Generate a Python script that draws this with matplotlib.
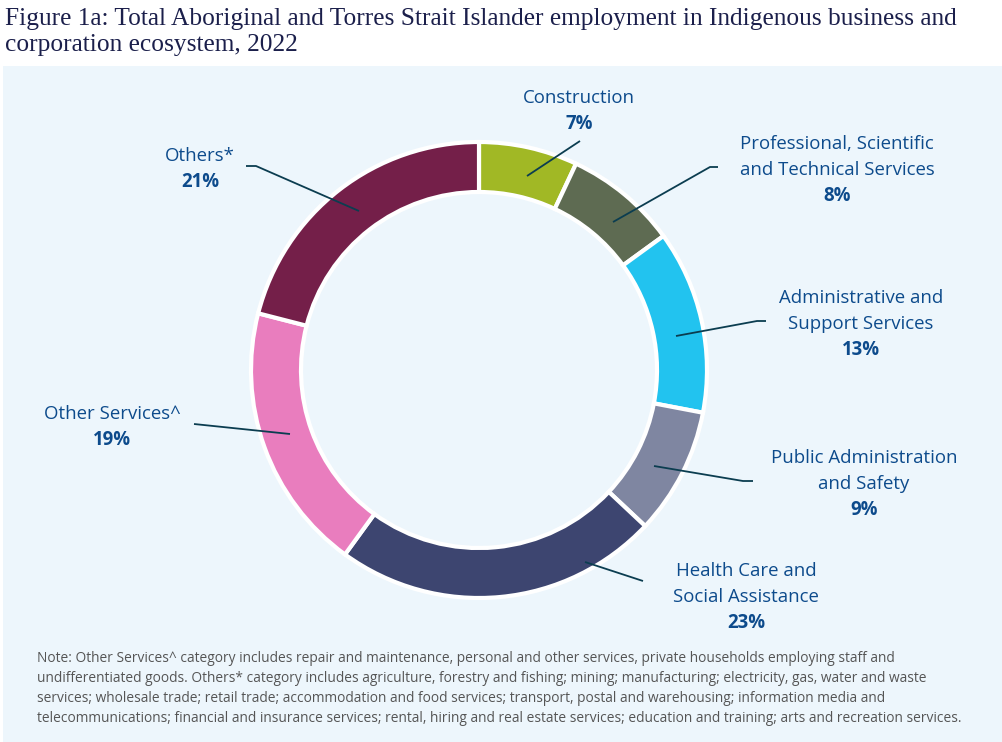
import matplotlib
matplotlib.use("Agg")
import matplotlib.pyplot as plt
from matplotlib import font_manager as fm

categories = ["Construction", "Professional, Scientific\nand Technical Services",
              "Administrative and\nSupport Services", "Public Administration\nand Safety",
              "Health Care and\nSocial Assistance", "Other Services^", "Others*"]
values = [7, 8, 13, 9, 23, 19, 21]
colors = ["#a1b825", "#5e6b52", "#22c3ef", "#7f86a1", "#3d4570", "#e97dbe", "#741f49"]

title_lines = ["Figure 1a: Total Aboriginal and Torres Strait Islander employment in Indigenous business and",
               "corporation ecosystem, 2022"]
note_lines = [
    "Note: Other Services^ category includes repair and maintenance, personal and other services, private households employing staff and",
    "undifferentiated goods. Others* category includes agriculture, forestry and fishing; mining; manufacturing; electricity, gas, water and waste",
    "services; wholesale trade; retail trade; accommodation and food services; transport, postal and warehousing; information media and",
    "telecommunications; financial and insurance services; rental, hiring and real estate services; education and training; arts and recreation services.",
]

W, H = 1003, 742
fig = plt.figure(figsize=(W / 100, H / 100), dpi=100)
fig.patch.set_facecolor("white")
ax = fig.add_axes([0, 0, 1, 1])
ax.set_xlim(0, W)
ax.set_ylim(0, H)
ax.axis("off")

def Y(y):
    return H - y

# panel
ax.add_patch(plt.Rectangle((3, 0), W - 3, Y(66), facecolor="#edf6fc", edgecolor="none", zorder=0))

# donut
wedges, _ = ax.pie(values, colors=colors, startangle=90, counterclock=False,
                   center=(479, Y(370)), radius=228,
                   wedgeprops=dict(width=50, edgecolor="white", linewidth=3))
ax.set_xlim(0, W)
ax.set_ylim(0, H)
ax.set_aspect("equal")

names = set(f.name for f in fm.fontManager.ttflist)
label_font = "Open Sans" if "Open Sans" in names else "DejaVu Sans"
note_font = "Liberation Sans Narrow" if "Liberation Sans Narrow" in names else label_font

txt_color = "#0d4b8c"
line_color = "#0b3d50"
fs = 13.4

# label layout: (center x, first line y, leader points in image px)
layout = [
    (579, 98, [(527, 176), (580, 141)]),
    (837, 144, [(613, 222), (710, 167), (718, 167)]),
    (861, 298, [(676, 336), (757, 321), (766, 321)]),
    (864, 458, [(654, 466), (743, 481), (753, 481)]),
    (746, 571, [(585, 562), (643, 581)]),
    (112, 414, [(290, 434), (194, 424)]),
    (200, 156, [(359, 211), (256, 166), (246, 166)]),
]
for cat, val, (cx, y0, pts) in zip(categories, values, layout):
    lines = cat.split("\n")
    for i, ln in enumerate(lines):
        ax.text(cx, Y(y0 + 26 * i), ln, ha="center", va="center", fontsize=fs,
                family=label_font, color=txt_color)
    ax.text(cx, Y(y0 + 26 * len(lines)), f"{val}%", ha="center", va="center",
            fontsize=fs, family=label_font, color=txt_color, fontweight="bold")
    ax.plot([p[0] for p in pts], [Y(p[1]) for p in pts], color=line_color, lw=1.3,
            solid_capstyle="butt", zorder=5)

# title
renderer = fig.canvas.get_renderer()
t = ax.text(5, Y(19), title_lines[0], ha="left", va="center", fontsize=16,
            family="Liberation Serif", color="#1b1f4b")
w = t.get_window_extent(renderer).width
tfs = 16 * 952 / w
t.set_fontsize(tfs)
ax.text(5, Y(45), title_lines[1], ha="left", va="center", fontsize=tfs,
        family="Liberation Serif", color="#1b1f4b")

# note
n0 = ax.text(37, Y(658), note_lines[0], ha="left", va="center", fontsize=10,
             family=note_font, color="#555555")
w = n0.get_window_extent(renderer).width
nfs = 10 * 858 / w
n0.set_fontsize(nfs)
for i, ln in enumerate(note_lines[1:], start=1):
    ax.text(37, Y(658 + 20 * i), ln, ha="left", va="center", fontsize=nfs,
            family=note_font, color="#555555")

fig.savefig("out.png", dpi=100, facecolor=fig.get_facecolor())
